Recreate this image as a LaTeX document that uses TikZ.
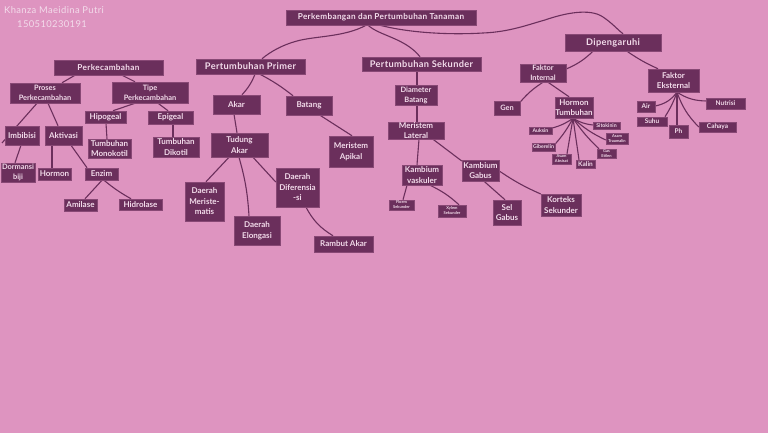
\documentclass[tikz,border=0pt]{standalone}
\usepackage{fontspec}
\setmainfont{Lato}
\newfontfamily\headfont[LetterSpace=4]{Lato}
\usepackage{tikz}
\usetikzlibrary{backgrounds,calc}
\pgfdeclarelayer{background}
\pgfsetlayers{background,main}
\definecolor{pagepink}{HTML}{DE94C0}
\definecolor{boxplum}{HTML}{6B2F5C}
\definecolor{textpink}{HTML}{F3DCEB}
\tikzset{
  anybox/.style={fill=boxplum,draw=boxplum!75!pagepink,line width=.5pt,text=textpink,align=center,inner sep=0pt},
  headbox/.style={anybox,font=\headfont\bfseries\fontsize{9.2}{11}\selectfont},
  titlebox/.style={anybox,font=\headfont\bfseries\fontsize{8.2}{10}\selectfont},
  midbox/.style={anybox,font=\bfseries\fontsize{8}{10.5}\selectfont},
  tallbox/.style={anybox,font=\bfseries\fontsize{7.4}{10}\selectfont},
  smallbox/.style={anybox,font=\bfseries\fontsize{6.5}{8}\selectfont},
  littlebox/.style={anybox,font=\bfseries\fontsize{5.2}{6.5}\selectfont},
  tinybox/.style={anybox,font=\bfseries\fontsize{4}{5}\selectfont},
  link/.style={draw=boxplum,line width=1.1pt},
  nametext/.style={text=textpink,font=\headfont\fontsize{9.4}{11}\selectfont,inner sep=0pt},
}
% #1 name, #2 style, corners x1 y1 x2 y2, #7 text
\newcommand{\mapnode}[7]{\node (#1) [#2,minimum width={(#5-#3)*1pt},minimum height={(#6-#4)*1pt}] at ({(#3+#5)/2},{(#4+#6)/2}) {#7};}

\begin{document}
\begin{tikzpicture}[x=1pt,y=-1pt]
  \begin{pgfonlayer}{background}
    \fill[pagepink] (0,0) rectangle (768,433);
  \end{pgfonlayer}
  \useasboundingbox (0,0) rectangle (768,433);

  \node (writer) [nametext] at (54,10) {Khanza Maeidina Putri};
  \node (number) [nametext] at (52,24) {150510230191};

  \mapnode{title}{titlebox}{286}{10}{476}{25}{Perkembangan dan Pertumbuhan Tanaman}

  % perkecambahan
  \mapnode{perk}{titlebox}{54}{60}{163}{75}{Perkecambahan}
  \mapnode{proses}{tallbox}{10}{83}{80}{103}{Proses\\Perkecambahan}
  \mapnode{tipe}{tallbox}{112}{82}{188}{103}{Tipe\\Perkecambahan}
  \mapnode{imbibisi}{midbox}{5}{126}{39}{145}{Imbibisi}
  \mapnode{aktivasi}{midbox}{45}{126}{82}{145}{Aktivasi}
  \mapnode{dormansi}{tallbox}{1}{163}{35}{182}{Dormansi\\biji}
  \mapnode{hormon}{midbox}{38}{168}{71}{180}{Hormon}
  \mapnode{enzim}{midbox}{85}{168}{118}{180}{Enzim}
  \mapnode{amilase}{midbox}{64}{199}{97}{211}{Amilase}
  \mapnode{hidrolase}{midbox}{119}{199}{162}{210}{Hidrolase}
  \mapnode{hipogeal}{midbox}{85}{111}{126}{123}{Hipogeal}
  \mapnode{epigeal}{midbox}{148}{111}{193}{124}{Epigeal}
  \mapnode{monokotil}{midbox}{88}{139}{131}{158}{Tumbuhan\\Monokotil}
  \mapnode{dikotil}{midbox}{153}{137}{199}{157}{Tumbuhan\\Dikotil}

  % primer
  \mapnode{primer}{headbox}{196}{59}{305}{74}{Pertumbuhan Primer}
  \mapnode{akar}{midbox}{213}{95}{260}{114}{Akar}
  \mapnode{batang}{midbox}{286}{96}{332}{115}{Batang}
  \mapnode{tudung}{midbox}{211}{133}{268}{157}{Tudung\\Akar}
  \mapnode{apikal}{midbox}{329}{136}{373}{167}{Meristem\\Apikal}
  \mapnode{meristematis}{midbox}{185}{182}{224}{221}{Daerah\\Meriste-\\matis}
  \mapnode{elongasi}{midbox}{234}{216}{280}{245}{Daerah\\Elongasi}
  \mapnode{diferensia}{midbox}{276}{168}{319}{207}{Daerah\\Diferensia\\-si}
  \mapnode{rambut}{midbox}{314}{236}{373}{252}{Rambut Akar}

  % sekunder
  \mapnode{sekunder}{headbox}{362}{57}{481}{71}{Pertumbuhan Sekunder}
  \mapnode{diameter}{tallbox}{395}{85}{437}{105}{Diameter\\Batang}
  \mapnode{lateral}{midbox}{388}{122}{444}{139}{Meristem\\Lateral}
  \mapnode{vaskuler}{midbox}{402}{165}{442}{185}{Kambium\\vaskuler}
  \mapnode{gabus}{midbox}{462}{160}{499}{181}{Kambium\\Gabus}
  \mapnode{floem}{tinybox}{389}{200}{414}{210}{Floem\\Sekunder}
  \mapnode{xylem}{tinybox}{438}{205}{466}{217}{Xylem\\Sekunder}
  \mapnode{sel}{midbox}{493}{200}{521}{225}{Sel\\Gabus}
  \mapnode{korteks}{midbox}{541}{194}{581}{216}{Korteks\\Sekunder}

  % dipengaruhi
  \mapnode{dipe}{headbox}{565}{34}{661}{51}{Dipengaruhi}
  \mapnode{internal}{tallbox}{520}{64}{566}{82}{Faktor\\Internal}
  \mapnode{eksternal}{midbox}{648}{69}{699}{92}{Faktor\\Eksternal}
  \mapnode{gen}{tallbox}{494}{101}{520}{115}{Gen}
  \mapnode{tumbuhan}{midbox}{555}{97}{593}{118}{Hormon\\Tumbuhan}
  \mapnode{auksin}{littlebox}{529}{127}{552}{134}{Auksin}
  \mapnode{giberelin}{littlebox}{532}{143}{555}{151}{Giberelin}
  \mapnode{absisat}{tinybox}{552}{154}{571}{164}{Asam\\Absisat}
  \mapnode{kalin}{smallbox}{576}{160}{595}{168}{Kalin}
  \mapnode{etilen}{tinybox}{597}{149}{616}{158}{Gas\\Etilen}
  \mapnode{traumalin}{tinybox}{606}{133}{628}{144}{Asam\\Traumalin}
  \mapnode{sitokinin}{littlebox}{593}{122}{620}{129}{Sitokinin}
  \mapnode{air}{smallbox}{637}{101}{655}{112}{Air}
  \mapnode{suhu}{smallbox}{637}{117}{667}{126}{Suhu}
  \mapnode{ph}{smallbox}{669}{125}{688}{138}{Ph}
  \mapnode{cahaya}{smallbox}{699}{122}{736}{132}{Cahaya}
  \mapnode{nutrisi}{smallbox}{706}{98}{745}{109}{Nutrisi}

  \coordinate (imbtail) at (2,143);

  \begin{pgfonlayer}{background}
    \draw[link] (title.south -| 366,0) .. controls (345,37) and (315,36) .. (297,41) .. controls (282,45) and (270,52) .. (primer.north -| 262,0);
    \draw[link] (title.south -| 368,0) .. controls (380,36) and (405,38) .. (sekunder.north -| 420,0);
    \draw[link] (title.south -| 380,0) .. controls (410,33) and (450,35) .. (483,33) .. controls (510,32) and (530,24) .. (545,20) .. controls (565,13) and (590,8) .. (603,17) .. controls (612,23) and (618,30) .. (dipe.north -| 623,0);
    \path[link]
      (perk.south -| 75,0) edge (proses.north -| 62,0)
      (perk.south -| 122,0) edge (tipe.north -| 135,0)
      (proses.south -| 37,0) edge (imbtail)
      (proses.south -| 48,0) edge (aktivasi.north -| 58,0)
      (imbibisi.south -| 21,0) edge (dormansi.north -| 15,0)
      (aktivasi.south -| 52,0) edge (hormon.north -| 52,0)
      (aktivasi.south -| 71,0) edge (enzim.north -| 87,0)
      (enzim.south -| 102,0) edge (amilase.north -| 85,0)
      (enzim.south -| 104,0) edge[bend right=5] (hidrolase.north -| 131,0)
      (tipe.south -| 135,0) edge (hipogeal.north -| 113,0)
      (tipe.south -| 158,0) edge (epigeal.north -| 168,0)
      (hipogeal.south -| 106,0) edge (monokotil.north -| 107,0)
      (epigeal.south -| 173,0) edge (dikotil.north -| 173,0)
      (primer.south -| 255,0) edge[bend left=10] (akar.north -| 242,0)
      (primer.south -| 260,0) edge[bend left=5] (batang.north -| 293,0)
      (akar.south -| 234,0) edge (tudung.north -| 237,0)
      (batang.south -| 320,0) edge (apikal.north -| 352,0)
      (tudung.south -| 229,0) edge (meristematis.north -| 206,0)
      (tudung.south -| 239,0) edge[bend left=6] (elongasi.north -| 249,0)
      (tudung.south -| 253,0) edge (diferensia.west |- 0,182)
      (diferensia.south -| 306,0) edge[bend right=15] (rambut.north -| 333,0)
      (sekunder.south -| 417,0) edge (diameter.north -| 417,0)
      (diameter.south -| 417,0) edge (lateral.north -| 417,0)
      (lateral.south -| 419,0) edge (vaskuler.north -| 417,0)
      (lateral.south -| 433,0) edge (gabus.west |- 0,161)
      (vaskuler.south -| 407,0) edge (floem.north -| 403,0)
      (vaskuler.south -| 430,0) edge[bend left=8] (xylem.north -| 459,0)
      (gabus.south -| 484,0) edge (sel.north -| 505,0)
      (gabus.east |- 0,171) edge[bend right=5] (korteks.west |- 0,194)
      (dipe.south -| 593,0) edge[bend left=10] (internal.east |- 0,69)
      (dipe.south -| 627,0) edge[bend right=5] (eksternal.north -| 658,0)
      (internal.south -| 543,0) edge[bend right=8] (gen.east |- 0,102)
      (internal.south -| 548,0) edge (tumbuhan.north -| 569,0)
      (tumbuhan.south -| 573,0) edge[bend left=10] (auksin.east |- 0,128)
      (tumbuhan.south -| 573,0) edge[bend left=6] (giberelin.east |- 0,144)
      (tumbuhan.south -| 573,0) edge (absisat.north -| 567,0)
      (tumbuhan.south -| 573,0) edge (kalin.north -| 579,0)
      (tumbuhan.south -| 573,0) edge[bend right=6] (etilen.north -| 599,0)
      (tumbuhan.south -| 573,0) edge[bend right=8] (traumalin.west |- 0,140)
      (tumbuhan.south -| 573,0) edge[bend right=12] (sitokinin.west |- 0,125)
      (eksternal.south -| 677,0) edge[bend left=20] (air.east |- 0,106)
      (eksternal.south -| 677,0) edge[bend left=6] (suhu.north -| 665,0)
      (eksternal.south -| 677,0) edge (ph.north -| 677,0)
      (eksternal.south -| 677,0) edge[bend right=12] (cahaya.west |- 0,127)
      (eksternal.south -| 677,0) edge[bend right=15] (nutrisi.west |- 0,101);
  \end{pgfonlayer}
\end{tikzpicture}
\end{document}
